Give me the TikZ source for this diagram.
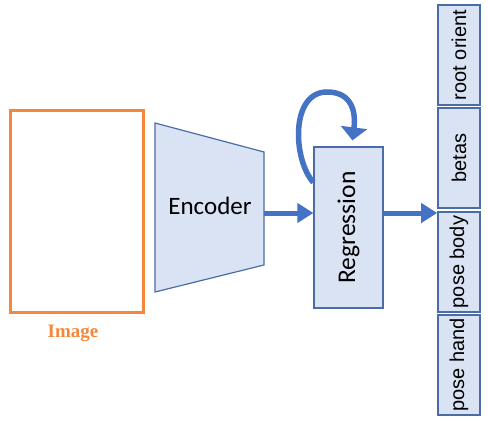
\documentclass[tikz,border=0pt]{standalone}
\usepackage{fontspec}
\setmainfont{Carlito}
\newfontfamily\arialf{Liberation Sans}
\newfontfamily\timesf{Liberation Serif}
\usetikzlibrary{arrows.meta,calc}
\definecolor{bfill}{HTML}{DAE3F3}
\definecolor{bdraw}{HTML}{4A6DA8}
\definecolor{barrow}{HTML}{4472C4}
\definecolor{orng}{HTML}{F5873A}
\begin{document}
\begin{tikzpicture}[x=1pt,y=-1pt,
  blockbox/.style={draw=bdraw,fill=bfill,line width=1.2pt,inner sep=0pt,minimum width=69pt,minimum height=161pt},
  outbox/.style={draw=bdraw,fill=bfill,line width=1.6pt,inner sep=0pt,minimum width=42pt,minimum height=100pt},
  bigarrow/.style={draw=barrow,line width=5pt,-{Triangle[width=19pt,length=16pt]}},
  outtext/.style={rotate=90,font=\arialf\fontsize{20}{24}\selectfont}
]
\useasboundingbox (0,0) rectangle (488,423);
% image box
\node[draw=orng,line width=3pt,minimum width=133pt,minimum height=202pt,inner sep=0pt] (img) at (76.5,211) {};
\node[text=orng,font=\timesf\bfseries\fontsize{19}{22}\selectfont] (imglbl) at (73,333) {Image};
% encoder trapezoid
\coordinate (e1) at (155,123);
\coordinate (e2) at (264,152);
\coordinate (e3) at (264,265);
\coordinate (e4) at (155,292);
\draw[draw=bdraw,fill=bfill,line width=1.2pt] (e1) -- (e2) -- (e3) -- (e4) -- cycle;
\node[font=\fontsize{25}{30}\selectfont] (enc) at (210,206) {Encoder};
% regression
\node[blockbox] (reg) at (348.5,227.5) {};
\node[rotate=90,font=\fontsize{25.5}{30}\selectfont] (regt) at (reg.center) {Regression};
% outputs
\node[outbox] (o1) at (459,55) {};
\node[outtext] at (o1.center) {root orient};
\node[outbox] (o2) at (459,158) {};
\node[outtext] at (o2.center) {betas};
\node[outbox] (o3) at (459,262) {};
\node[outtext] at (o3.center) {pose body};
\node[outbox] (o4) at (459,365) {};
\node[outtext] at (o4.center) {pose hand};
% arrows
\coordinate (encout) at (264,213);
\draw[bigarrow] (encout) -- (reg.west |- encout);
\coordinate (regout) at (reg.east |- encout);
\draw[bigarrow] (regout) -- (o3.west |- encout);
% loop
\coordinate (ls) at ($(reg.north west)+(0,36)$);
\coordinate (le) at ($(reg.north west)+(39,-6)$);
\draw[draw=barrow,line width=5.5pt,-{Triangle[width=26pt,length=13pt]}]
  (ls) .. controls (293,160) and (290,92) .. (327,92)
  .. controls (352,92) and (356,112) .. (le);
\end{tikzpicture}
\end{document}
